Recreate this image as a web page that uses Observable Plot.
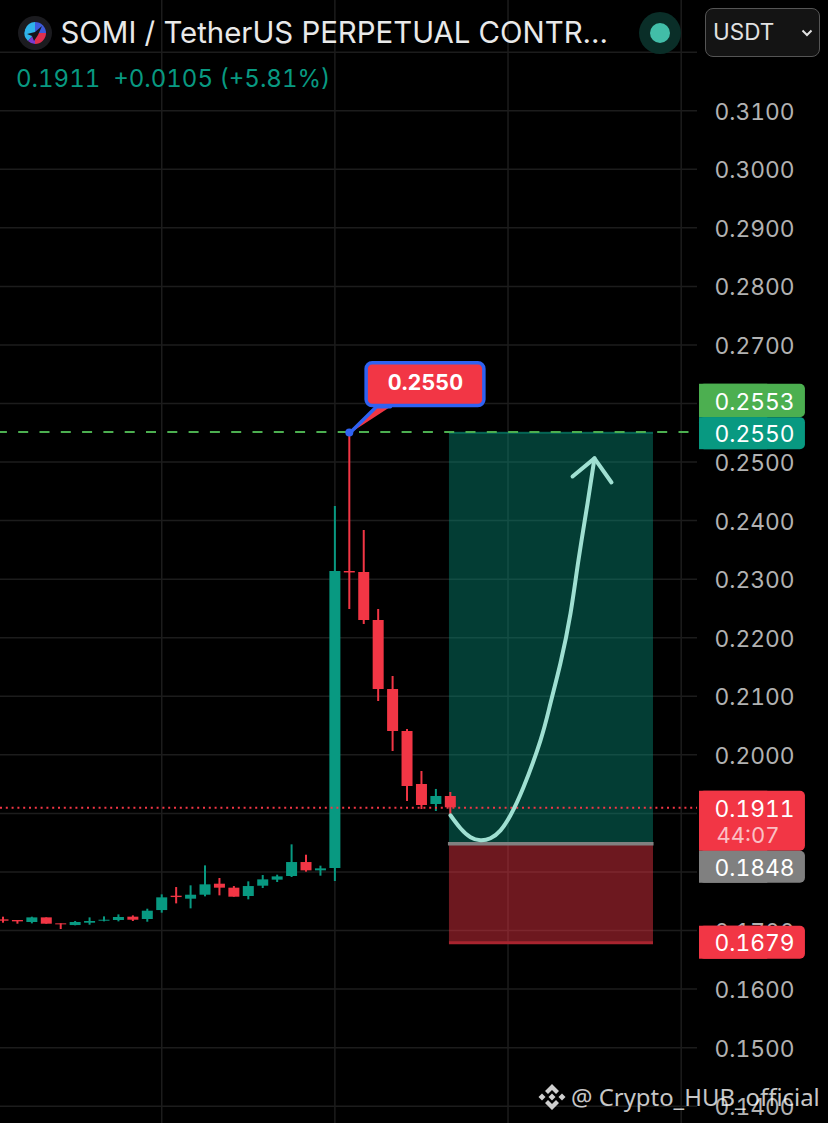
<!DOCTYPE html>
<html>
<head>
<meta charset="utf-8">
<script src="https://cdn.jsdelivr.net/npm/d3@7"></script>
<script src="https://cdn.jsdelivr.net/npm/@observablehq/plot@0.6"></script>
<style>
html,body{margin:0;padding:0;background:#000;width:828px;height:1123px;overflow:hidden}
#wrap{position:relative;width:828px;height:1123px;font-family:Inter,Roboto,sans-serif}
#wrap svg.plot{position:absolute;left:0;top:0}
#chart text{font-variant-numeric:tabular-nums;font-feature-settings:"tnum"}
.ov{position:absolute;white-space:nowrap}
</style>
</head>
<body>
<div id="wrap">
  <div id="chart"></div>
  <svg class="ov" style="left:15px;top:13px" width="40" height="40" viewBox="0 0 40 40">
    <circle cx="20" cy="20" r="17" fill="#1b1b1f"/>
    <path d="M20 9 A11 11 0 0 0 13 28 L20 20 Z" fill="#2fb4ea"/>
    <path d="M20 9 A11 11 0 0 1 31 20 L20 20 Z" fill="#3d5bdc"/>
    <path d="M31 20 A11 11 0 0 1 20 31 L20 20 Z" fill="#e0304f"/>
    <path d="M20 31 A11 11 0 0 1 13 28 L20 20 Z" fill="#7a3ad0"/>
    <path d="M27 13 L23 22 L19 28 L17 23 L12 21 L20 19 Z" fill="#15151a"/>
  </svg>
  <div class="ov" style="left:60.5px;top:14px;font-size:29.4px;line-height:38px;color:#e9e9e9">SOMI / TetherUS PERPETUAL CONTR...</div>
  <div class="ov" style="left:16px;top:63px;font-size:24px;line-height:32px;color:#089981;font-variant-numeric:tabular-nums;font-feature-settings:'tnum'">0.1911&nbsp; +0.0105 (+5.81%)</div>
  <svg class="ov" style="left:638px;top:11px" width="44" height="44"><circle cx="22" cy="22" r="21" fill="#0a2e28"/><circle cx="22" cy="22" r="10" fill="#42bda8"/></svg>
  <div class="ov" style="left:705px;top:8px;width:113px;height:47px;border:1.5px solid #555;border-radius:8px;background:#141414"></div>
  <div class="ov" style="left:713px;top:17px;font-size:22.5px;line-height:30px;color:#e2e2e2">USDT</div>
  <svg class="ov" style="left:800px;top:27px" width="14" height="12"><path d="M2.5 3.5 L7 8 L11.5 3.5" fill="none" stroke="#e2e2e2" stroke-width="2"/></svg>
  <svg class="ov" style="left:536px;top:1081px" width="32" height="32" viewBox="0 0 32 32">
    <g fill="#cfcfcf">
      <path d="M16 3 L23 10 L20 13 L16 9 L12 13 L9 10 Z"/>
      <path d="M16 29 L23 22 L20 19 L16 23 L12 19 L9 22 Z"/>
      <path d="M6 12.5 L9.5 16 L6 19.5 L2.5 16 Z"/>
      <path d="M26 12.5 L29.500 16 L26 19.5 L22.500 16 Z"/>
      <path d="M16 12.500 L19.500 16 L16 19.500 L12.500 16 Z"/>
    </g>
  </svg>
  <div class="ov" style="left:571px;top:1080px;font-family:'Noto Sans',sans-serif;font-size:23.9px;line-height:34px;color:rgba(255,255,255,.78)">@ Crypto_HUB_official</div>
</div>
<script>
// Candles, oldest first
const opens  = [.17196,.17185,.17151,.17230,.17128,.17099,.17139,.17173,.17185,.17242,.17202,.17355,.17600,.17549,.17617,.17805,.17737,.17595,.17771,.17874,.17936,.18175,.18033,.18073,.23145,.23128,.22308,.21130,.20413,.19508,.19166,.19303];
const closes = [.17173,.17162,.17230,.17122,.17111,.17151,.17168,.17190,.17236,.17190,.17344,.17572,.17577,.17617,.17794,.17737,.17583,.17765,.17879,.17930,.18175,.18033,.18067,.23145,.23120,.22308,.21130,.20413,.19473,.19149,.19303,.19110];
const highs  = [.17242,.17185,.17242,.17230,.17128,.17168,.17230,.17247,.17281,.17264,.17378,.17623,.17748,.17777,.18118,.17902,.17765,.17845,.17953,.17959,.18477,.18300,.18113,.24255,.25500,.23845,.22496,.21352,.20447,.19730,.19423,.19371];
const lows   = [.17139,.17122,.17128,.17122,.17031,.17094,.17105,.17162,.17162,.17168,.17156,.17310,.17469,.17384,.17589,.17606,.17583,.17538,.17731,.17834,.17919,.18010,.17942,.17851,.22496,.22240,.20925,.20071,.19217,.19081,.19047,.18962];

// Axis
const priceTicks = [.32,.31,.30,.29,.28,.27,.26,.25,.24,.23,.22,.21,.20,.19,.18,.17,.16,.15,.14];
const priceLabels = [.31,.30,.29,.28,.27,.25,.24,.23,.22,.21,.20,.17,.16,.15,.14];
const timeTicks = [11,23,35,47];

// Levels
const lastPrice = 0.1911, entry = 0.1848, target = 0.2550, stop = 0.1679, peak = 0.2550;
const countdown = "44:07";

// Forecast curve
const curveX = [31.01,31.70,32.40,33.09,33.78,34.48,35.17,36.07,37.25,37.94,38.63,39.33,39.88,40.51,40.99];
const curveY = [.18982,.18760,.18606,.18555,.18589,.18725,.18982,.19460,.20262,.20894,.21577,.22431,.23336,.24309,.25077];
const arrowX = [39.47,40.99,42.17];
const arrowY = [.24767,.25077,.24665];

// Price tags on the axis: label, top and bottom price
const tagLabels = ["0.2553","0.2550","0.1911","0.1848","0.1679"];
const tagTops   = [.26342,.25772,.19392,.18367,.17087];
const tagBots   = [.25772,.25225,.18367,.17821,.16524];
const tagTextAt = [.26048,.25501,.19098,.18094,.16806];

const RED="#f23645", TEAL="#089981", GREEN="#4caf50", GRAY="#808080", BLUE="#2f62f2";
const tagColors=[GREEN,TEAL,RED,GRAY,RED];

const candles = opens.map((o,i)=>({i,o,c:closes[i],h:highs[i],l:lows[i]}));
const col = d=>d.c>=d.o?TEAL:RED;
const tags = tagLabels.map((label,k)=>({label,top:tagTops[k],bot:tagBots[k],at:tagTextAt[k],color:tagColors[k]}));
const curve = curveX.map((x,k)=>({x,y:curveY[k]}));
const arrow = arrowX.map((x,k)=>({x,y:arrowY[k]}));
const tail = [{x:24,y:peak},{x:25.88,y:.2596},{x:26.85,y:.2596}];
const one=[0];
const F="Inter,Roboto,sans-serif";

const plot = Plot.plot({
  width:828,height:1123,
  marginLeft:0,marginRight:131,marginTop:0,marginBottom:0,
  x:{type:"linear",domain:[-0.173,48.13],range:[0,697],axis:null},
  y:{type:"linear",domain:[0.137186,0.328955],range:[1123,0],axis:null},
  style:{background:"#000",color:"#b2b2b2",fontFamily:F,fontSize:"23px",overflow:"visible"},
  marks:[
    Plot.ruleY(priceTicks,{stroke:"#1c1c1c",strokeWidth:1.500,dy:-0.8}),
    Plot.ruleX(timeTicks,{stroke:"#1c1c1c",strokeWidth:1.500}),
    Plot.axisY(priceLabels,{anchor:"right",tickSize:0,tickPadding:17,label:null,tickFormat:d3.format(".4f"),fill:"#b2b2b2",fontSize:22.8,dy:1}),
    // Position tool
    Plot.rect(one,{x1:30.94,x2:45.08,y1:entry,y2:target,fill:TEAL,fillOpacity:.4,dy:-0.8}),
    Plot.rect(one,{x1:30.94,x2:45.08,y1:stop,y2:entry,fill:RED,fillOpacity:.45,dy:-0.8}),
    Plot.ruleY([target],{x1:30.94,x2:45.08,stroke:TEAL,strokeOpacity:.5,strokeWidth:2,dy:-0.8}),
    Plot.ruleY([stop],{x1:30.94,x2:45.08,stroke:"#a8242f",strokeWidth:3,dy:-0.8}),
    Plot.ruleY([entry],{x1:30.87,x2:45.12,stroke:GRAY,strokeWidth:3.500,dy:-0.8}),
    // Levels
    Plot.ruleY([peak],{x1:-0.173,x2:47.64,stroke:GREEN,strokeWidth:2,strokeDasharray:"10,11.300",strokeDashoffset:3.1,dy:-1.5}),
    // Candles
    Plot.ruleX(candles,{x:"i",y1:"l",y2:"h",stroke:col,strokeWidth:2}),
    Plot.ruleX(candles,{x:"i",y1:"o",y2:"c",stroke:col,strokeWidth:11}),
    Plot.ruleY([lastPrice],{x1:-0.173,x2:48.13,stroke:RED,strokeWidth:2,strokeDasharray:"2,3.800"}),
    // Forecast
    Plot.line(curve,{x:"x",y:"y",curve:"natural",stroke:"#9fe0d2",strokeWidth:4}),
    Plot.line(arrow,{x:"x",y:"y",stroke:"#9fe0d2",strokeWidth:4,strokeLinecap:"round",strokeLinejoin:"round"}),
    // Callout
    Plot.line(tail,{x:"x",y:"y",z:null,fill:RED,stroke:BLUE,strokeWidth:3.500}),
    Plot.dot([peak],{x:()=>24,y:d=>d,r:4,fill:BLUE,dy:-1}),
    Plot.rect(one,{x1:25.2,x2:33.36,y1:.2597,y2:.2670,fill:RED,stroke:BLUE,strokeWidth:3.500,rx:6}),
    Plot.text([peak],{x:()=>29.28,y:()=>.26356,text:d=>d.toFixed(4),fill:"#fff",fontWeight:700,fontSize:21.5,letterSpacing:"1.4px"}),
    // Price tags
    Plot.rect(tags,{x1:()=>48.27,x2:()=>55.61,y1:"bot",y2:"top",fill:d=>d.color,rx:5}),
    Plot.rect(tags,{x1:()=>48.27,x2:()=>53,y1:"bot",y2:"top",fill:d=>d.color}),
    Plot.text(tags,{x:()=>52.08,y:"at",text:"label",fill:"#fff",fontSize:22.8,dy:1}),
    Plot.text([countdown],{x:()=>49.45,y:()=>.18640,text:d=>d,textAnchor:"start",fill:"rgba(255,255,255,.7)",fontSize:22,dy:1})
  ]
});
plot.querySelectorAll("text").forEach(t=>t.style.fontFamily=F);
document.getElementById("chart").appendChild(plot);
</script>
</body>
</html>
